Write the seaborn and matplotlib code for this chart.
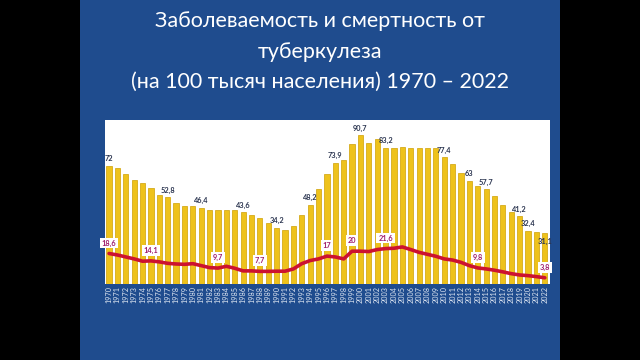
import numpy as np
import pandas as pd
import matplotlib
matplotlib.use("Agg")
import matplotlib.pyplot as plt
import seaborn as sns
from matplotlib.patches import Rectangle

# Годы и данные (на 100 тысяч населения)
years = list(range(1970, 2023))
incidence = [72, 70.7, 67.3, 63.2, 61.8, 58.5, 54.4, 52.8, 49.5, 47.4,
             47.4, 46.4, 45.2, 45.0, 45.0, 45.0, 43.6, 42.1, 40.3, 37.2,
             34.2, 33.1, 35.6, 42.3, 48.2, 57.7, 67.3, 73.9, 75.9, 85.1,
             90.7, 86.1, 88.3, 83.2, 83.2, 83.6, 83.0, 83.2, 83.2, 83.0,
             77.4, 73.4, 67.9, 63.0, 59.5, 57.7, 53.4, 48.3, 43.7, 41.2,
             32.4, 31.8, 31.1]
mortality = [18.6, 17.7, 16.5, 15.3, 13.9, 14.1, 13.5, 12.6, 12.2, 12.0,
             12.4, 11.2, 10.0, 9.7, 10.8, 9.6, 8.0, 8.0, 7.7, 7.7,
             7.8, 7.8, 9.2, 12.4, 14.3, 15.3, 17.0, 16.5, 15.3, 20.0,
             20.0, 19.8, 21.0, 21.6, 21.8, 22.6, 21.0, 19.3, 18.1, 16.9,
             15.3, 14.6, 13.2, 11.2, 9.8, 9.2, 8.4, 7.4, 6.3, 5.5,
             5.1, 4.5, 3.8]

# подписи значений
inc_label_years = [1970, 1977, 1981, 1986, 1990, 1994, 1997, 2000, 2003,
                   2010, 2013, 2015, 2019, 2020, 2022]
mort_label_years = [1970, 1975, 1983, 1988, 1996, 1999, 2003, 2014, 2022]

df = pd.DataFrame({"Год": years, "Заболеваемость": incidence, "Смертность": mortality})

def fmt(v):
    s = f"{v:.1f}".rstrip("0").rstrip(".")
    return s.replace(".", ",")

sns.set_theme(style="white")
plt.rcParams["font.family"] = ["Lato", "DejaVu Sans"]

fig = plt.figure(figsize=(6.4, 3.6), dpi=100, facecolor="black")
# фон слайда
fig.patches.append(Rectangle((80 / 640, 0), 480 / 640, 1, transform=fig.transFigure,
                             facecolor="#1F4C8E", edgecolor="none", zorder=-5))

fig.text(0.5, 1 - 21 / 360, "Заболеваемость и смертность от", ha="center", va="center",
         color="white", fontsize=15.5)
fig.text(0.5, 1 - 52 / 360, "туберкулеза", ha="center", va="center",
         color="white", fontsize=15.5)
fig.text(0.5, 1 - 82 / 360, "(на 100 тысяч населения) 1970 – 2022", ha="center", va="center",
         color="white", fontsize=15.5)

ax = fig.add_axes([105 / 640, 1 - 284 / 360, 445 / 640, 164 / 360])
ax.set_facecolor("white")

sns.barplot(data=df, x="Год", y="Заболеваемость", native_scale=True, width=0.62,
            color="#EEC21B", edgecolor="#CFA004", linewidth=0.5, saturation=1, ax=ax)
sns.lineplot(data=df, x="Год", y="Смертность", color="#CC1230", linewidth=2.6, ax=ax)

ax.set_xlim(1969.52, 2022.62)
ax.set_ylim(0, 100)
ax.set_xticks(years)
ax.set_xticklabels([str(y) for y in years], rotation=90, fontsize=5.2, color="#DCE4F0")
ax.tick_params(axis="x", length=0, pad=1.5)
ax.set_yticks([])
ax.set_xlabel("")
ax.set_ylabel("")
for s in ax.spines.values():
    s.set_visible(False)

for y in inc_label_years:
    v = incidence[years.index(y)]
    dy = -9 if y == 2022 else 2.5
    ax.annotate(fmt(v), (y, v), xytext=(0, dy), textcoords="offset points",
                ha="center", va="bottom", fontsize=5.3, fontweight="bold", color="#2B3550")

for y in mort_label_years:
    v = mortality[years.index(y)]
    ax.annotate(fmt(v), (y, v), xytext=(0, 5), textcoords="offset points",
                ha="center", va="bottom", fontsize=5.3, fontweight="bold", color="#9E1C6C",
                bbox=dict(boxstyle="square,pad=0.25", facecolor="white", edgecolor="none"))

fig.savefig("out.png", dpi=100, facecolor="black")
